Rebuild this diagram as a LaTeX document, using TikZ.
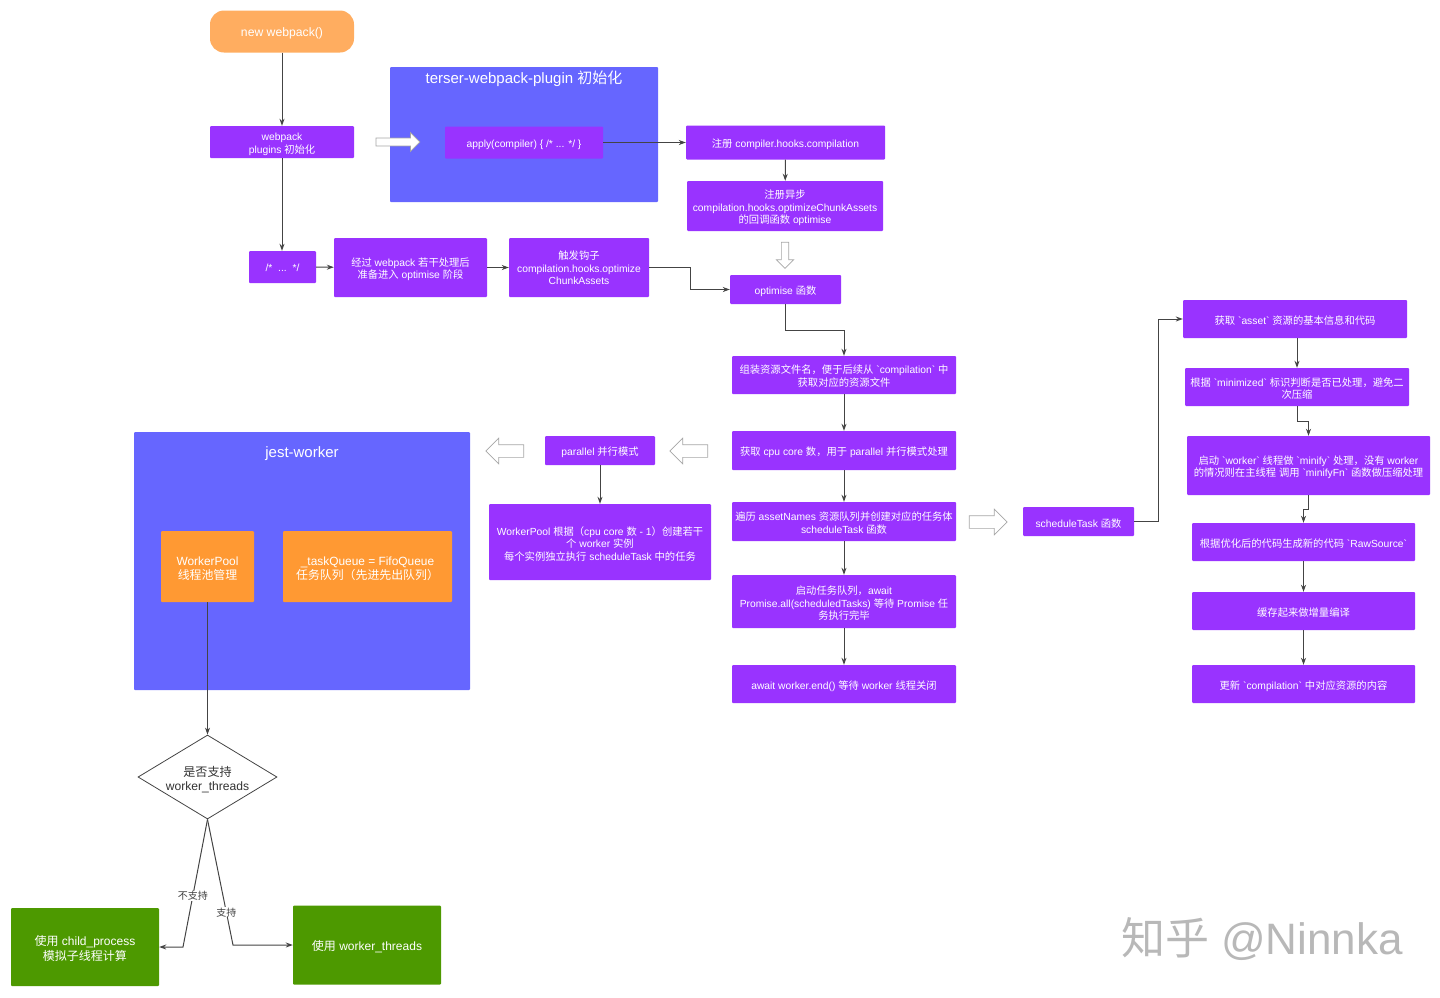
\documentclass[tikz,border=0pt]{standalone}
\usepackage{fontspec}
\usetikzlibrary{arrows.meta,shapes.geometric,shapes.arrows}
\newfontfamily\lat{Liberation Sans}
\newfontfamily\cjk{Noto Sans CJK SC}
% switch automatically to the CJK family for Chinese characters
\newXeTeXintercharclass\cjkcl
\newcount\cjkloop
\newcommand\cjkrange[2]{\cjkloop=#1 \loop\XeTeXcharclass\cjkloop=\cjkcl \ifnum\cjkloop<#2 \advance\cjkloop by 1 \repeat}
\cjkrange{"3000}{"303F}
\cjkrange{"4E00}{"9FFF}
\cjkrange{"FF00}{"FFEF}
\XeTeXinterchartokenstate=1
\XeTeXinterchartoks 0 \cjkcl={\begingroup\cjk}
\XeTeXinterchartoks 4095 \cjkcl={\begingroup\cjk}
\XeTeXinterchartoks \cjkcl 0={\endgroup}
\XeTeXinterchartoks \cjkcl 4095={\endgroup}
\definecolor{pur}{HTML}{9933FF}
\definecolor{panel}{HTML}{6666FF}
\definecolor{org}{HTML}{FF9933}
\definecolor{lorg}{HTML}{FFAD60}
\definecolor{grn}{HTML}{4D9900}
\definecolor{ln}{HTML}{444444}
\tikzset{
 base/.style={align=center,inner sep=0pt,text=white,rounded corners=1pt,font=\lat\fontsize{10.3}{12.6}\selectfont},
 lift/.style={execute at begin node={\rule{0pt}{#1pt}}},
 pbox/.style={base,fill=pur},
 lines1/.style={lift=12.6},
 lines2/.style={lift=25.2},
 lines3/.style={lift=37.8},
 obox/.style={base,fill=org,text=white,font=\lat\fontsize{11.9}{14.6}\selectfont,lift=27.5},
 gbox/.style={base,fill=grn,font=\lat\fontsize{12}{14.8}\selectfont},
 panelbox/.style={fill=panel,rounded corners=1pt,inner sep=0pt},
 ptitle/.style={text=white,inner sep=0pt,font=\lat\fontsize{15}{17}\selectfont},
 startbox/.style={base,fill=lorg,rounded corners=14pt,font=\lat\fontsize{12.2}{14}\selectfont,lift=13.5},
 hollow/.style={single arrow,draw=black!35,fill=white,line width=0.7pt,inner xsep=0pt,inner ysep=6pt,minimum height=38,single arrow head extend=6.5pt,single arrow tip angle=90},
 conn/.style={draw=ln,line width=1pt,-{Stealth[length=7pt,width=5pt]}},
 decision/.style={diamond,aspect=1.655,draw=ln,line width=0.8pt,fill=white,inner sep=0pt,minimum width=139,minimum height=84,align=center,text=black!80,font=\lat\fontsize{12.1}{14.6}\selectfont,lift=29.6},
 edgelab/.style={fill=white,inner sep=0.5pt,text=black!75,font=\lat\fontsize{10}{12}\selectfont},
 wmark/.style={text=black!28,inner sep=0pt,font=\lat\fontsize{44}{50}\selectfont},
}
\begin{document}
\begin{tikzpicture}[x=1pt,y=-1pt]
\useasboundingbox (0,0) rectangle (1440,997);
% panels
\node[panelbox,minimum width=268,minimum height=135] (terser) at (524,134.5) {};
\node[ptitle] (tersert) at (524,79) {terser-webpack-plugin 初始化};
\node[panelbox,minimum width=336,minimum height=258] (jest) at (302,561) {};
\node[ptitle] (jestt) at (302,453.5) {jest-worker};
% top chain
\node[startbox,minimum width=144,minimum height=42] (start) at (282,31.5) {new webpack()};
\node[pbox,lines2,minimum width=144,minimum height=32] (plugins) at (282,142) {webpack\\plugins 初始化};
\node[pbox,lift=11.5,minimum width=158,minimum height=32] (apply) at (524,142.5) {apply(compiler) \{ /* ... */ \}};
\node[pbox,lines1,minimum width=199,minimum height=34] (reg) at (785.5,142.5) {注册 compiler.hooks.compilation};
\node[pbox,lines3,minimum width=196,minimum height=50] (reg2) at (785,206) {注册异步\\compilation.hooks.optimizeChunkAssets\\的回调函数 optimise};
\node[pbox,lift=10,minimum width=67,minimum height=32] (cmt) at (282.5,267) {/*\ \ ...\ \ */};
\node[pbox,lift=24.5,minimum width=153,minimum height=59] (pass) at (410.5,267.5) {经过 webpack 若干处理后\\准备进入 optimise 阶段};
\node[pbox,lift=34.5,minimum width=140,minimum height=59] (trig) at (579,267.5) {触发钩子\\compilation.hooks.optimize\\ChunkAssets};
\node[pbox,lines1,minimum width=111,minimum height=29] (opt) at (785.5,289.5) {optimise 函数};
% middle column
\node[pbox,lift=23,minimum width=224,minimum height=38] (names) at (844,375) {组装资源文件名，便于后续从 `compilation` 中\\获取对应的资源文件};
\node[pbox,lines1,minimum width=224,minimum height=39] (cpu) at (844,450.5) {获取 cpu core 数，用于 parallel 并行模式处理};
\node[pbox,lift=24,minimum width=224,minimum height=39] (iter) at (844,521.5) {遍历 assetNames 资源队列并创建对应的任务体\\scheduleTask 函数};
\node[pbox,lines3,minimum width=224,minimum height=53] (run) at (844,601.5) {启动任务队列，await\\Promise.all(scheduledTasks) 等待 Promise 任\\务执行完毕};
\node[pbox,lines1,minimum width=224,minimum height=38] (end) at (844,684) {await worker.end() 等待 worker 线程关闭};
% parallel
\node[pbox,lines1,minimum width=110,minimum height=29] (par) at (600,450.5) {parallel 并行模式};
\node[pbox,lines3,minimum width=222,minimum height=76] (pool) at (600,542) {WorkerPool 根据（cpu core 数 - 1）创建若干\\个 worker 实例\\每个实例独立执行 scheduleTask 中的任务};
% jest contents
\node[obox,minimum width=93,minimum height=71] (wp) at (207.5,566.5) {WorkerPool\\线程池管理};
\node[obox,minimum width=169,minimum height=71] (queue) at (367.5,566.5) {\_taskQueue = FifoQueue\\任务队列（先进先出队列）};
\node[decision] (sup) at (207.5,777) {是否支持\\worker\_threads};
\node[gbox,lift=27.5,minimum width=148,minimum height=78] (child) at (85,947) {使用 child\_process\\模拟子线程计算};
\node[gbox,lift=14,minimum width=148,minimum height=79] (wt) at (367,945) {使用 worker\_threads};
% right column
\node[pbox,lines1,minimum width=111,minimum height=29] (sched) at (1078.5,521.5) {scheduleTask 函数};
\node[pbox,lines1,minimum width=224,minimum height=38] (a1) at (1295,319) {获取 `asset` 资源的基本信息和代码};
\node[pbox,lift=24.5,minimum width=224,minimum height=38] (a2) at (1297,387) {根据 `minimized` 标识判断是否已处理，避免二\\次压缩};
\node[pbox,lift=24.5,minimum width=243,minimum height=59] (a3) at (1308.5,465.5) {启动 `worker` 线程做 `minify` 处理，没有 worker\\的情况则在主线程 调用 `minifyFn` 函数做压缩处理};
\node[pbox,lines1,minimum width=223,minimum height=38] (a4) at (1303.5,542) {根据优化后的代码生成新的代码 `RawSource`};
\node[pbox,lines1,minimum width=223,minimum height=38] (a5) at (1303.5,611) {缓存起来做增量编译};
\node[pbox,lines1,minimum width=223,minimum height=38] (a6) at (1303.5,684) {更新 `compilation` 中对应资源的内容};
% hollow arrows
\node[hollow,minimum height=44,inner ysep=3.6pt,single arrow head extend=5.5pt] (h1) at (396,142) {};
\node[hollow,minimum height=26,inner ysep=3.3pt,rotate=-90,single arrow head extend=5pt] (h2) at (785,253.5) {};
\node[hollow,rotate=180] (h3) at (508,451) {};
\node[hollow,rotate=180] (h4) at (692,451) {};
\node[hollow] (h5) at (985,522) {};
% connectors
\draw[conn] (start) -- (plugins);
\draw[conn] (plugins) -- (cmt.north -| plugins.south);
\draw[conn] (cmt) -- (pass);
\draw[conn] (pass) -- (trig);
\draw[conn] (trig.east) -- ++(41,0) |- (opt.west);
\draw[conn] (apply.east) -- (reg.west);
\draw[conn] (reg) -- (reg2);
\draw[conn] (opt.south) -- ++(0,26) -| (names.north);
\draw[conn] (names) -- (cpu);
\draw[conn] (cpu) -- (iter);
\draw[conn] (iter) -- (run);
\draw[conn] (run) -- (end);
\draw[conn] (par) -- (pool);
\draw[conn] (wp) -- (sup);
\draw[conn] (sup.south) -- node[edgelab,pos=0.6] (l1) {不支持} (183,947) -- (child.east);
\draw[conn] (sup.south) -- node[edgelab,pos=0.74] (l2) {支持} (233,945) -- (wt.west);
\draw[conn] (sched.east) -- ++(24,0) |- (a1.west);
\draw[conn] (a1.south -| a2.north) -- (a2.north);
\draw[conn] (a2.south) -- ++(0,15) -| (a3.north);
\draw[conn] (a3.south) -- ++(0,14) -| (a4.north);
\draw[conn] (a4) -- (a5);
\draw[conn] (a5) -- (a6);
% watermark
\node[wmark] (wm) at (1262,939) {知乎 @Ninnka};
\end{tikzpicture}
\end{document}
